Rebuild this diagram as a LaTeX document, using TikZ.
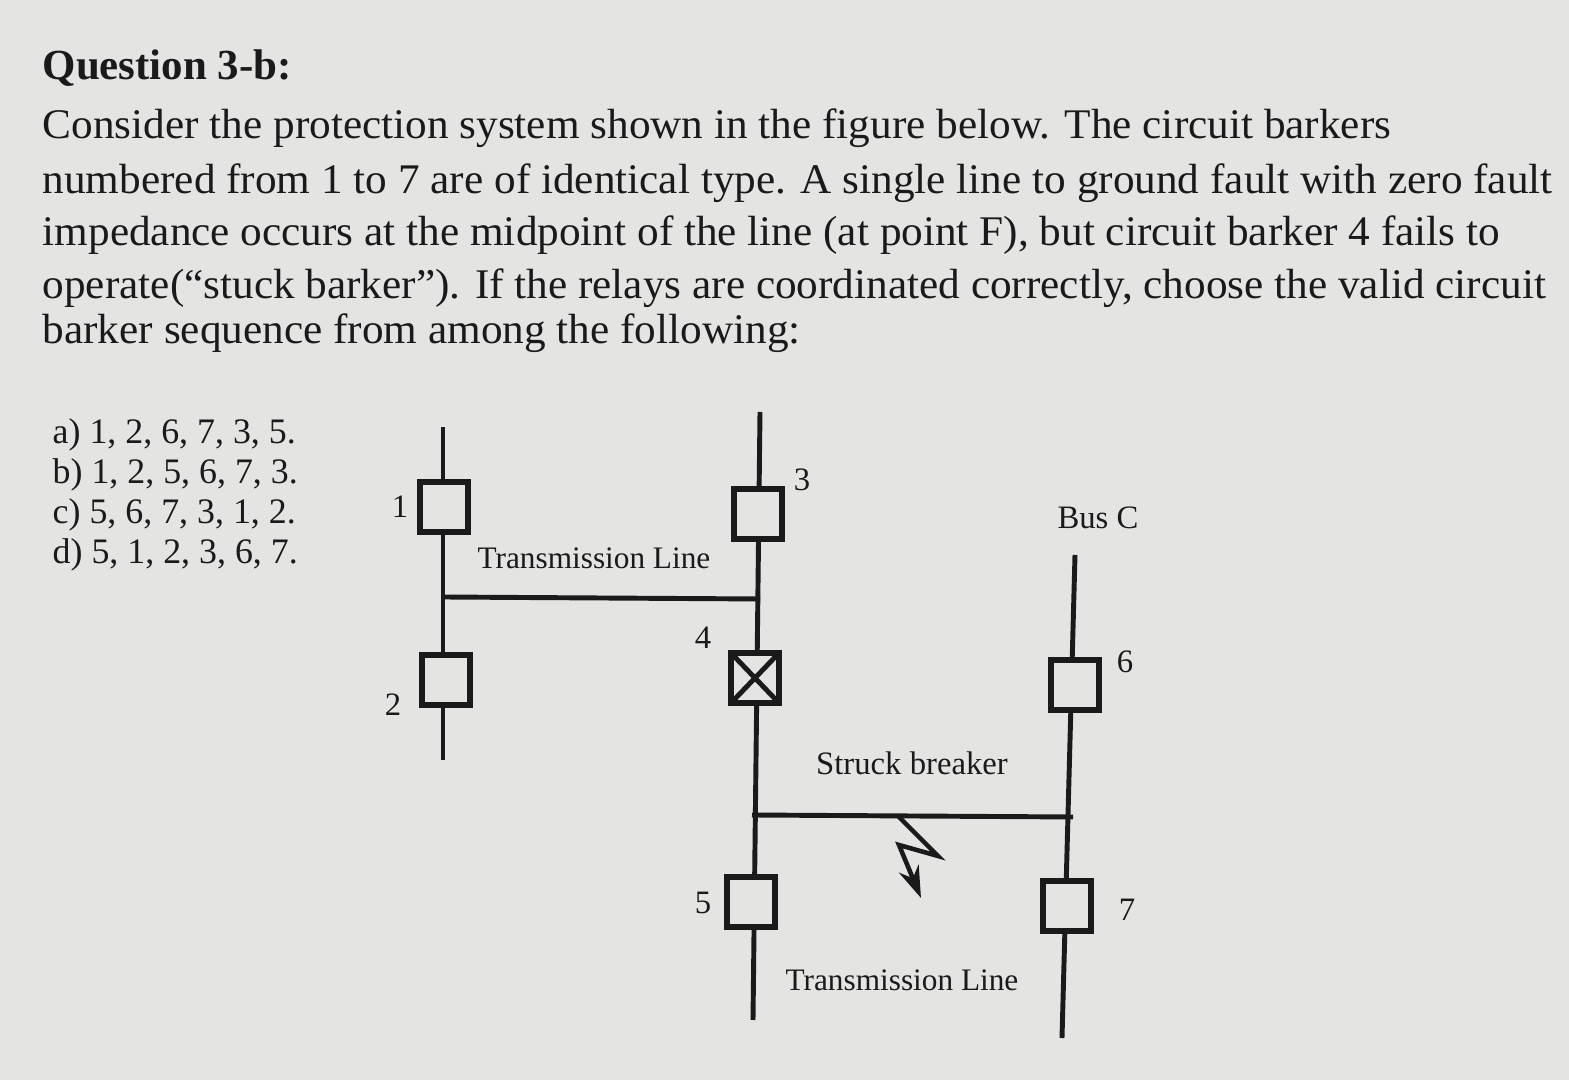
\documentclass[tikz,border=0pt]{standalone}
\usepackage{fontspec}
\usetikzlibrary{calc,arrows.meta}
\setmainfont{Liberation Serif}
\definecolor{bg}{HTML}{E4E4E2}
\definecolor{ink}{HTML}{1A1A1A}
\begin{document}
\begin{tikzpicture}[x=0.01cm,y=-0.01cm,
  txt/.style={anchor=west,inner sep=0,text=ink,xscale=1.025,font=\fontsize{12}{14}\selectfont},
  opt/.style={anchor=west,inner sep=0,text=ink,font=\fontsize{10.2}{12}\selectfont},
  lbl/.style={inner sep=0,text=ink,font=\fontsize{9.3}{11}\selectfont},
  wire/.style={draw=ink,line width=1.4pt},
  brk/.style={draw=ink,line width=1.6pt,fill=none}]
\fill[bg] (0,0) rectangle (1569,1080);
\useasboundingbox (0,0) rectangle (1569,1080);
\node[anchor=west,inner sep=0,text=ink,font=\bfseries\fontsize{12.2}{15}\selectfont] (t0) at (42,68) {Question 3-b:};
\node[txt] (t1) at (42,128) {Consider the protection system shown in the figure below. The circuit barkers};
\node[txt] (t2) at (42,183) {numbered from 1 to 7 are of identical type. A single line to ground fault with zero fault};
\node[txt] (t3) at (42,235) {impedance occurs at the midpoint of the line (at point F), but circuit barker 4 fails to};
\node[txt] (t4) at (42,288) {operate(“stuck barker”). If the relays are coordinated correctly, choose the valid circuit};
\node[txt] (t5) at (42,333) {barker sequence from among the following:};
\node[opt] (oa) at (52,435) {a) 1, 2, 6, 7, 3, 5.};
\node[opt] (ob) at (52,475) {b) 1, 2, 5, 6, 7, 3.};
\node[opt] (oc) at (52,515) {c) 5, 6, 7, 3, 1, 2.};
\node[opt] (od) at (52,555) {d) 5, 1, 2, 3, 6, 7.};
% breakers
\coordinate (b1) at (444,507);
\coordinate (b2) at (446,680);
\coordinate (b3) at (758,514);
\coordinate (b4) at (755,678);
\coordinate (b5) at (751,902);
\coordinate (b6) at (1075,685);
\coordinate (b7) at (1067,906);
% lines
\draw[wire] (443,427) -- (443,760);
\draw[wire] (760,412) -- (753,1020);
\draw[wire] (1075,555) -- (1062,1038);
\draw[wire] (443,597) -- (760,599);
\draw[wire] (752,815) -- (1073,817);
\foreach \b in {b1,b2,b3,b4,b5,b6,b7}
  \filldraw[brk,fill=bg] ($(\b)+(-24,-25)$) rectangle ($(\b)+(24,25)$);
\draw[ink,line width=1.4pt] ($(b4)+(-24,-25)$) -- ($(b4)+(24,25)$) ($(b4)+(24,-25)$) -- ($(b4)+(-24,25)$);
% fault
\coordinate (f0) at (898,816);
\coordinate (f1) at (938,856);
\coordinate (f2) at (899,845);
\coordinate (f3) at (921,898);
\draw[ink,line width=1.3pt,-{Stealth[open,length=9pt,width=6pt]}] (f0) -- (f1) -- (f2) -- (f3);
% labels
\node[lbl] (l1) at (400,507) {1};
\node[lbl] (l2) at (393,705) {2};
\node[lbl] (l3) at (802,480) {3};
\node[lbl] (l4) at (703,638) {4};
\node[lbl] (l5) at (703,903) {5};
\node[lbl] (l6) at (1125,662) {6};
\node[lbl] (l7) at (1127,910) {7};
\node[lbl] (bc) at (1098,518) {Bus C};
\node[lbl,font=\fontsize{8.9}{11}\selectfont] (tl1) at (594,558) {Transmission Line};
\node[lbl] (sb) at (912,763) {Struck breaker};
\node[lbl,font=\fontsize{8.9}{11}\selectfont] (tl2) at (902,980) {Transmission Line};
\end{tikzpicture}
\end{document}
